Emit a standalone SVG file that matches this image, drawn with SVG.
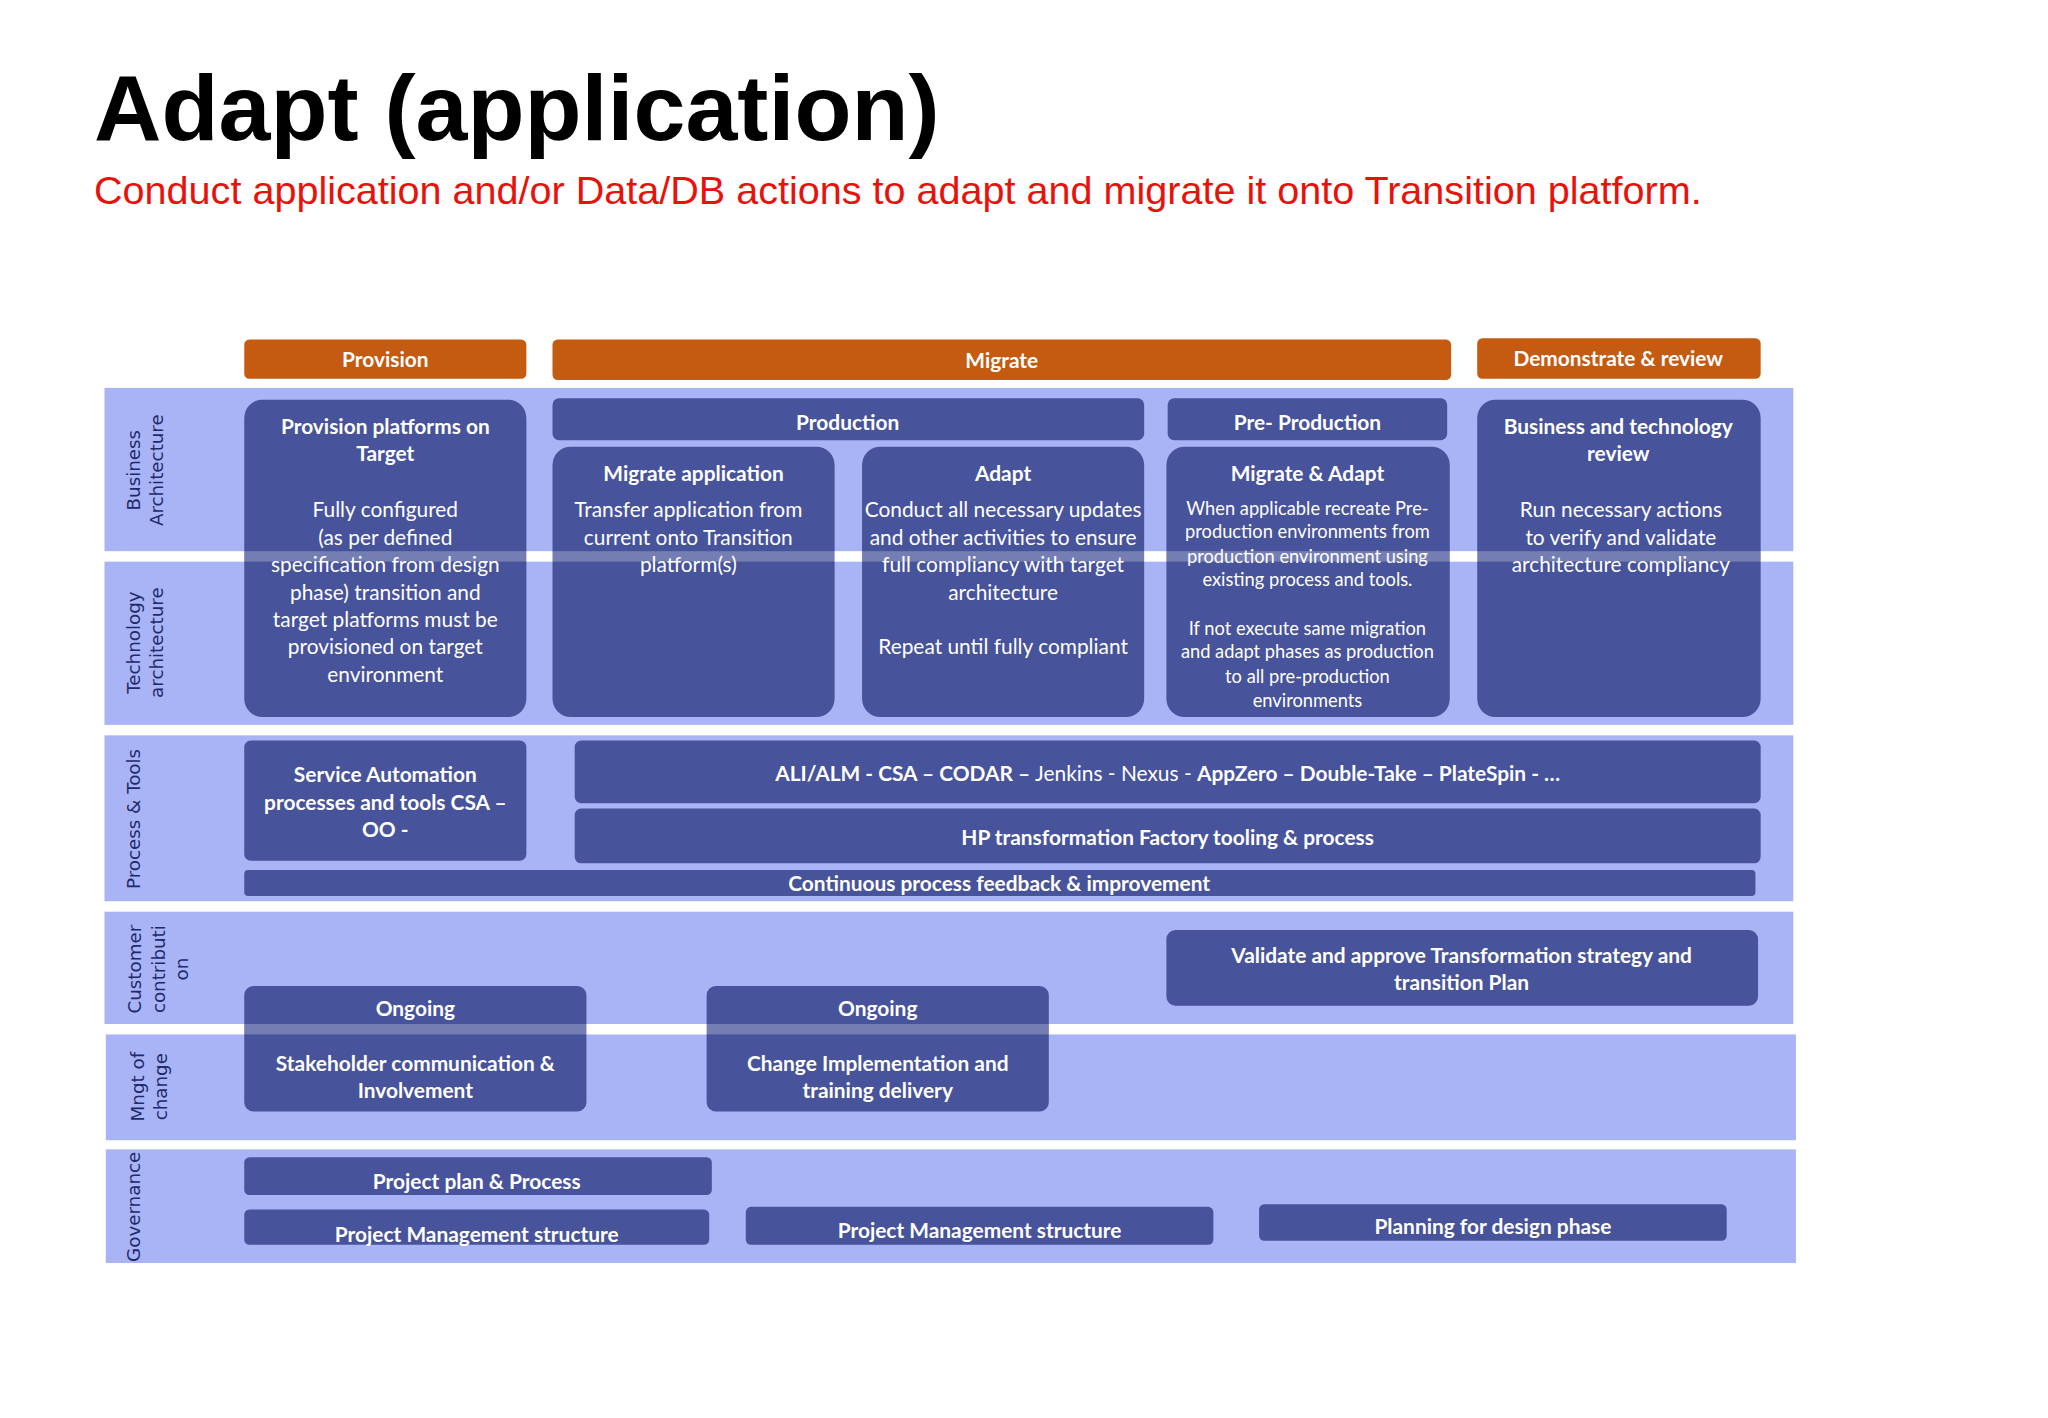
<svg xmlns="http://www.w3.org/2000/svg" width="2048" height="1418" viewBox="0 0 2048 1418">
<style>
.band{fill:#A9B4F6}
.hdr{fill:#C55A11}
.box{fill:#47539A}
.t{font-family:Lato,"Open Sans",sans-serif;fill:#fff;text-anchor:middle;font-size:16px}
.b{font-weight:bold}
.s{font-size:14px}
.side{font-family:"DejaVu Sans",sans-serif;fill:#1F2A6B;font-size:14px;text-anchor:middle}
</style>
<rect width="2048" height="1418" fill="#fff"/>
<g transform="scale(1.30612)">
<text x="72" y="107" font-family="Liberation Sans,Arial,sans-serif" font-weight="bold" font-size="71.5" fill="#000">Adapt (application)</text>
<text x="72" y="156" font-family="Liberation Sans,Arial,sans-serif" font-size="30.3" fill="#E8120C">Conduct application and/or Data/DB actions to adapt and migrate it onto Transition platform.</text>
<g id="bands">
<rect class="band" x="80" y="297" width="1293" height="125"/>
<rect class="band" x="80" y="430" width="1293" height="125"/>
<rect class="band" x="80" y="563" width="1293" height="127"/>
<rect class="band" x="80" y="698" width="1293" height="86"/>
<rect class="band" x="81" y="792" width="1294" height="81"/>
<rect class="band" x="81" y="880" width="1294" height="87"/>
</g>
<g id="sidelabels">
<text class="side" transform="translate(110,360) rotate(-90)"><tspan x="0" y="-3">Business</tspan><tspan x="0" y="15">Architecture</tspan></text>
<text class="side" transform="translate(110,492) rotate(-90)"><tspan x="0" y="-3">Technology</tspan><tspan x="0" y="15">architecture</tspan></text>
<text class="side" transform="translate(107,627) rotate(-90)"><tspan x="0" y="0">Process &amp; Tools</tspan></text>
<text class="side" transform="translate(120,742) rotate(-90)"><tspan x="0" y="-12">Customer</tspan><tspan x="0" y="6">contributi</tspan><tspan x="0" y="24">on</tspan></text>
<text class="side" transform="translate(113,832) rotate(-90)"><tspan x="0" y="-3">Mngt  of</tspan><tspan x="0" y="15">change</tspan></text>
<text class="side" transform="translate(107,924) rotate(-90)" font-size="12"><tspan x="0" y="0">Governance</tspan></text>
</g>
<g id="h-provision"><rect class="hdr" x="187" y="260" width="216" height="30" rx="4"/><text class="t b" x="295" y="281">Provision</text></g>
<g id="h-migrate"><rect class="hdr" x="423" y="260" width="688" height="31" rx="4"/><text class="t b" x="767" y="282">Migrate</text></g>
<g id="h-demo"><rect class="hdr" x="1131" y="259" width="217" height="31" rx="4"/><text class="t b" x="1239" y="280">Demonstrate &amp; review</text></g>
<g id="n-provision"><rect class="box" x="187" y="306" width="216" height="243" rx="14"/>
<text class="t"><tspan class="b" x="295" y="332">Provision platforms on</tspan><tspan class="b" x="295" y="353">Target</tspan><tspan x="295" y="396">Fully configured</tspan><tspan x="295" y="417">(as per defined</tspan><tspan x="295" y="438">specification from design</tspan><tspan x="295" y="459">phase)  transition and</tspan><tspan x="295" y="480">target platforms must be</tspan><tspan x="295" y="501">provisioned on target</tspan><tspan x="295" y="522">environment</tspan></text></g>
<g id="n-production"><rect class="box" x="423" y="305" width="453" height="32" rx="5"/><text class="t b" x="649" y="329">Production</text></g>
<g id="n-preprod"><rect class="box" x="894" y="305" width="214" height="32" rx="5"/><text class="t b" x="1001" y="329">Pre- Production</text></g>
<g id="n-migrateapp"><rect class="box" x="423" y="342" width="216" height="207" rx="14"/>
<text class="t"><tspan class="b" x="531" y="368">Migrate application</tspan><tspan x="527" y="396">Transfer application from</tspan><tspan x="527" y="417">current onto Transition</tspan><tspan x="527" y="438">platform(s)</tspan></text></g>
<g id="n-adapt"><rect class="box" x="660" y="342" width="216" height="207" rx="14"/>
<text class="t"><tspan class="b" x="768" y="368">Adapt</tspan><tspan x="768" y="396">Conduct all necessary updates</tspan><tspan x="768" y="417">and other activities to ensure</tspan><tspan x="768" y="438">full compliancy with target</tspan><tspan x="768" y="459">architecture</tspan><tspan x="768" y="501">Repeat until fully compliant</tspan></text></g>
<g id="n-migadapt"><rect class="box" x="893" y="342" width="217" height="207" rx="14"/>
<text class="t"><tspan class="b" x="1001" y="368">Migrate &amp; Adapt</tspan><tspan class="s" x="1001" y="394">When applicable recreate Pre-</tspan><tspan class="s" x="1001" y="412">production environments from</tspan><tspan class="s" x="1001" y="431">production environment using</tspan><tspan class="s" x="1001" y="449">existing process and tools.</tspan><tspan class="s" x="1001" y="486">If not execute same migration</tspan><tspan class="s" x="1001" y="504">and adapt phases as production</tspan><tspan class="s" x="1001" y="523">to  all pre-production</tspan><tspan class="s" x="1001" y="541">environments</tspan></text></g>
<g id="n-review"><rect class="box" x="1131" y="306" width="217" height="243" rx="14"/>
<text class="t"><tspan class="b" x="1239" y="332">Business and technology</tspan><tspan class="b" x="1239" y="353">review</tspan><tspan x="1241" y="396">Run necessary actions</tspan><tspan x="1241" y="417">to verify and validate</tspan><tspan x="1241" y="438">architecture compliancy</tspan></text></g>
<g id="n-sa"><rect class="box" x="187" y="567" width="216" height="92" rx="5"/>
<text class="t b"><tspan x="295" y="599">Service Automation</tspan><tspan x="295" y="620">processes and tools CSA –</tspan><tspan x="295" y="641">OO -</tspan></text></g>
<g id="n-ali"><rect class="box" x="440" y="567" width="908" height="48" rx="5"/>
<text class="t" x="894" y="598"><tspan class="b">ALI/ALM - CSA – CODAR – </tspan>Jenkins - Nexus - <tspan class="b">AppZero – Double-Take – PlateSpin - …</tspan></text></g>
<g id="n-hp"><rect class="box" x="440" y="619" width="908" height="42" rx="5"/><text class="t b" x="894" y="647">HP transformation Factory tooling &amp; process</text></g>
<g id="n-cont"><rect class="box" x="187" y="666" width="1157" height="20" rx="3"/><text class="t b" x="765" y="682">Continuous process feedback &amp; improvement</text></g>
<g id="n-validate"><rect class="box" x="893" y="712" width="453" height="58" rx="7"/>
<text class="t b"><tspan x="1119" y="737">Validate and approve Transformation strategy and</tspan><tspan x="1119" y="758">transition Plan</tspan></text></g>
<g id="n-ongoing1"><rect class="box" x="187" y="755" width="262" height="96" rx="7"/>
<text class="t b"><tspan x="318" y="778">Ongoing</tspan><tspan x="318" y="820">Stakeholder  communication &amp;</tspan><tspan x="318" y="841">Involvement</tspan></text></g>
<g id="n-ongoing2"><rect class="box" x="541" y="755" width="262" height="96" rx="7"/>
<text class="t b"><tspan x="672" y="778">Ongoing</tspan><tspan x="672" y="820">Change Implementation and</tspan><tspan x="672" y="841">training delivery</tspan></text></g>
<g id="n-pp"><rect class="box" x="187" y="886" width="358" height="29" rx="4"/><text class="t b" x="365" y="910">Project plan &amp; Process</text></g>
<g id="n-pms1"><rect class="box" x="187" y="926" width="356" height="27" rx="4"/><text class="t b" x="365" y="951">Project Management structure</text></g>
<g id="n-pms2"><rect class="box" x="571" y="924" width="358" height="29" rx="4"/><text class="t b" x="750" y="948">Project Management structure</text></g>
<g id="n-plan"><rect class="box" x="964" y="922" width="358" height="28" rx="4"/><text class="t b" x="1143" y="945">Planning for design phase</text></g>
<g id="gaps" fill="#fff" opacity="0.25">
<rect x="187" y="422" width="1161" height="8"/>
<rect x="187" y="784" width="616" height="8"/>
</g>
<g id="connectors"/>
</g>
</svg>
